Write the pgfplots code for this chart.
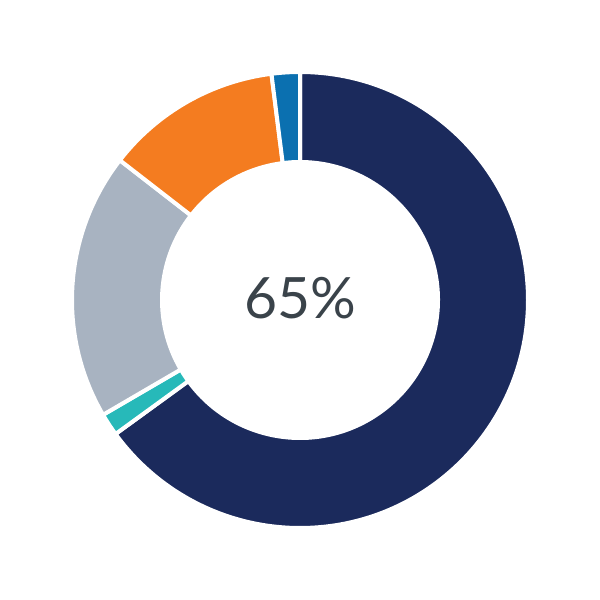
\documentclass[border=0pt]{standalone}
\usepackage{pgfplots}
\usepackage{pgfplotstable}
\pgfplotsset{compat=1.18}
\usepackage{fontspec}
\setmainfont{Lato}
\definecolor{cnavy}{HTML}{1B2A5C}
\definecolor{cteal}{HTML}{27B9B9}
\definecolor{cgray}{HTML}{A8B3C1}
\definecolor{corange}{HTML}{F47C20}
\definecolor{cblue}{HTML}{0B70B0}
\definecolor{ctext}{HTML}{3A434A}
\pgfplotstableread{
value color
65.0 cnavy
1.6 cteal
18.9 cgray
12.5 corange
2.0 cblue
}\slices
\begin{document}
\begin{tikzpicture}
\begin{axis}[
  scale only axis, width=300pt, height=300pt,
  xmin=-300, xmax=300, ymin=-300, ymax=300,
  hide axis, clip=false,
]
\path[fill=white] (axis cs:-300,-300) rectangle (axis cs:300,300);
\pgfplotstablegetrowsof{\slices}
\pgfmathtruncatemacro\N{\pgfplotsretval-1}
\gdef\cum{0}
\pgfplotsforeachungrouped \i in {0,...,\N}{%
  \pgfplotstablegetelem{\i}{value}\of\slices \let\v\pgfplotsretval
  \pgfplotstablegetelem{\i}{color}\of\slices \let\c\pgfplotsretval
  \pgfmathsetmacro\aone{90-3.6*\cum}%
  \pgfmathsetmacro\cumnew{\cum+\v}%
  \pgfmathsetmacro\atwo{90-3.6*\cumnew}%
  \pgfmathsetmacro\xa{228*cos(\aone)}%
  \pgfmathsetmacro\ya{228*sin(\aone)}%
  \pgfmathsetmacro\xb{138*cos(\atwo)}%
  \pgfmathsetmacro\yb{138*sin(\atwo)}%
  \edef\temp{\noexpand\fill[\c, draw=white, line width=2pt, line join=miter]
    (axis cs:\xa,\ya) arc[start angle=\aone, end angle=\atwo, radius=114pt]
    -- (axis cs:\xb,\yb) arc[start angle=\atwo, end angle=\aone, radius=69pt] -- cycle;}%
  \temp
  \global\let\cum\cumnew
}
\node[text=ctext, font=\fontsize{28.5}{34}\selectfont, inner sep=0pt] at (axis cs:0,2) {65\%};
\end{axis}
\end{tikzpicture}
\end{document}
